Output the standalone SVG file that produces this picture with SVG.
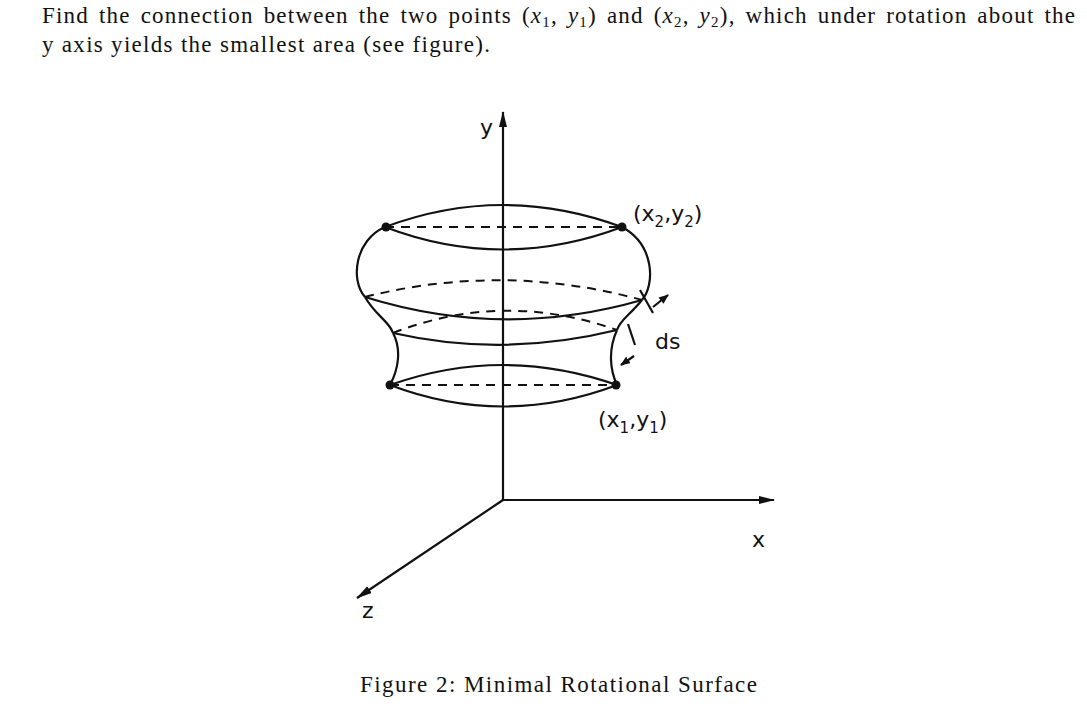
<svg xmlns="http://www.w3.org/2000/svg" width="1087" height="709" viewBox="0 0 1087 709">
<style>
.t{font-family:"Liberation Serif",serif;font-size:23px;fill:#111}
.l{font-family:"DejaVu Sans",sans-serif;font-size:22px;fill:#111}
.s{fill:none;stroke:#111;stroke-width:2.2}
.d{fill:none;stroke:#111;stroke-width:2;stroke-dasharray:9 7}
</style>
<defs><marker id="a" markerWidth="10" markerHeight="8" refX="9" refY="4" orient="auto" markerUnits="userSpaceOnUse"><path d="M0,0L10,4L0,8z" fill="#111"/></marker>
<marker id="b" markerWidth="16" markerHeight="10" refX="15" refY="5" orient="auto" markerUnits="userSpaceOnUse"><path d="M0,1L16,5L0,9z" fill="#111"/></marker></defs>
<rect width="1087" height="709" fill="#fff"/>
<text class="t" x="42" y="23" textLength="1033" lengthAdjust="spacing" word-spacing="3">Find the connection between the two points (<tspan font-style="italic">x</tspan><tspan font-size="15" dy="4">1</tspan><tspan dy="-4">, </tspan><tspan font-style="italic">y</tspan><tspan font-size="15" dy="4">1</tspan><tspan dy="-4">) and (</tspan><tspan font-style="italic">x</tspan><tspan font-size="15" dy="4">2</tspan><tspan dy="-4">, </tspan><tspan font-style="italic">y</tspan><tspan font-size="15" dy="4">2</tspan><tspan dy="-4">), which under rotation about the</tspan></text>
<text class="t" x="42" y="52" textLength="448" lengthAdjust="spacing">y axis yields the smallest area (see figure).</text>
<g id="connectors">
<line class="s" x1="503" y1="500" x2="503" y2="112" marker-end="url(#b)"/>
<line class="s" x1="503" y1="500" x2="774" y2="500" marker-end="url(#b)"/>
<line class="s" x1="503" y1="500" x2="357" y2="598" marker-end="url(#b)"/>
</g>
<g id="surface">
<path class="s" d="M385,227Q503,183 622,227M385,227Q503,272 622,227"/>
<line class="d" x1="385" y1="227" x2="622" y2="227"/>
<path class="s" d="M385,227C355,240 350,280 365,297M622,227C655,245 655,285 642,300"/>
<path class="s" d="M365,297Q503,340 642,300"/>
<path class="d" d="M365,297Q503,262 642,300"/>
<path class="s" d="M393,333Q503,358 617,330"/>
<path class="d" d="M393,333Q503,290 617,330"/>
<path class="s" d="M365,297C375,315 390,322 393,333M642,300C630,315 620,320 617,330"/>
<path class="s" d="M393,333C402,350 398,370 390,385M617,330C608,350 610,370 617,385"/>
<path class="s" d="M390,385Q503,345 617,385M390,385Q503,428 617,385"/>
<line class="d" x1="390" y1="385" x2="617" y2="385"/>
<circle cx="386" cy="227" r="4.5" fill="#111"/><circle cx="622" cy="227" r="4.5" fill="#111"/>
<circle cx="390" cy="385" r="4.5" fill="#111"/><circle cx="616" cy="385" r="4.5" fill="#111"/>
<line class="d" x1="503" y1="227" x2="503" y2="410"/>
<line class="s" x1="653" y1="307" x2="668" y2="295" marker-end="url(#a)"/>
<line class="s" x1="628" y1="324" x2="635" y2="345"/>
<line class="s" x1="634" y1="356" x2="621" y2="365" marker-end="url(#a)"/>
<line class="s" x1="640" y1="290" x2="653" y2="313"/>
</g>
<g id="labels">
<text class="l" x="480" y="135">y</text>
<text class="l" x="633" y="221">(x<tspan font-size="15" dy="6">2</tspan><tspan dy="-6">,y</tspan><tspan font-size="15" dy="6">2</tspan><tspan dy="-6">)</tspan></text>
<text class="l" x="655" y="349">ds</text>
<text class="l" x="598" y="427">(x<tspan font-size="15" dy="6">1</tspan><tspan dy="-6">,y</tspan><tspan font-size="15" dy="6">1</tspan><tspan dy="-6">)</tspan></text>
<text class="l" x="752" y="547">x</text>
<text class="l" x="362" y="618">z</text>
</g>
<text class="t" x="360" y="692" textLength="397" lengthAdjust="spacing">Figure 2: Minimal Rotational Surface</text>
</svg>
